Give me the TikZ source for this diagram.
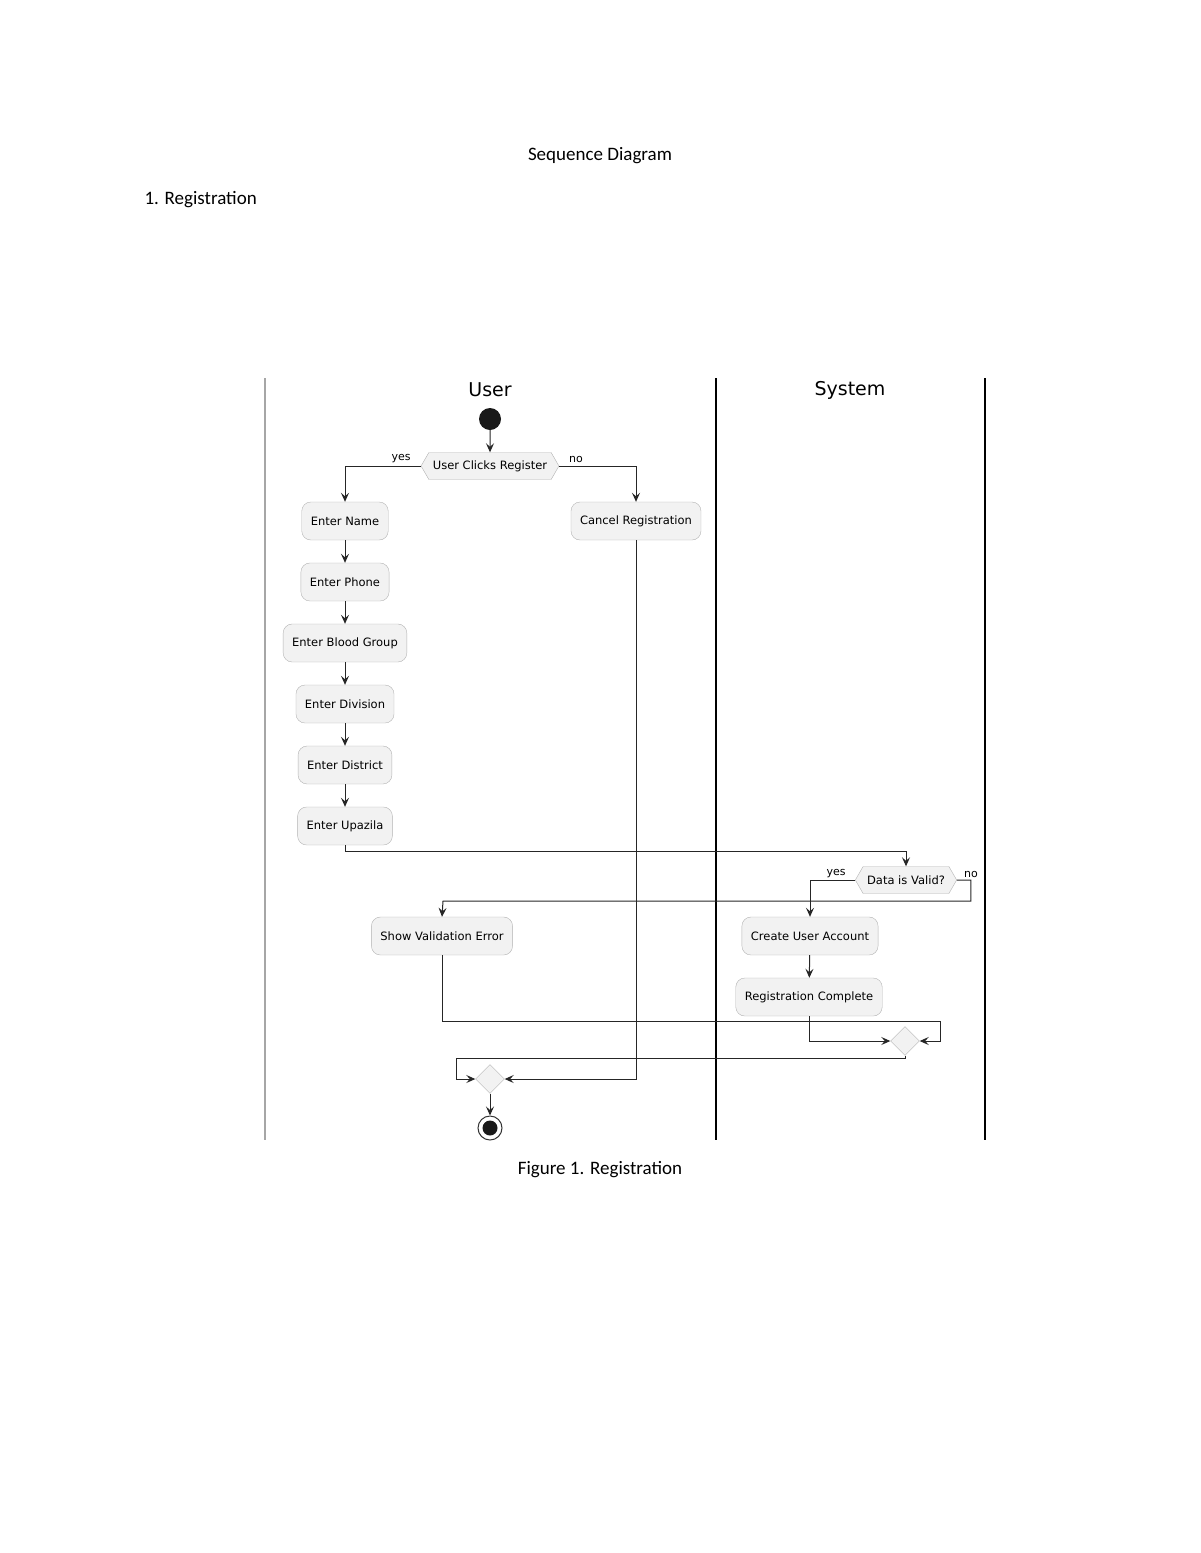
\documentclass[tikz,border=0pt]{standalone}
\usepackage{fontspec}
\setmainfont{Carlito}
\newfontfamily\dia{DejaVu Sans}
\usetikzlibrary{arrows.meta,shapes.symbols,shapes.geometric}
\begin{document}
\begin{tikzpicture}[x=1pt,y=-1pt,
  act/.style={draw=gray!60,fill=gray!10,rounded corners=9pt,minimum height=38pt,inner xsep=9pt,font=\dia\fontsize{11.5}{13}\selectfont},
  dec/.style={shape=signal,signal to=east and west,signal from=nowhere,signal pointer angle=120,draw=gray!60,fill=gray!10,minimum height=27pt,inner xsep=4pt,font=\dia\fontsize{11.5}{13}\selectfont},
  mrg/.style={diamond,draw=gray!60,fill=gray!10,minimum size=29pt,inner sep=0pt},
  lab/.style={font=\dia\fontsize{11}{12}\selectfont},
  flow/.style={draw=black!85,line width=1pt,-{Stealth[length=9pt,width=8pt,inset=3.5pt]}},
  ln/.style={draw=black!85,line width=1pt},
  lane/.style={line width=1.5pt}]
\useasboundingbox (0,0) rectangle (1200,1553);
\node[font=\fontsize{19}{22}\selectfont] (t1) at (600,156) {Sequence Diagram};
\node[font=\fontsize{19}{22}\selectfont,anchor=west] (t2) at (141,200) {1. Registration};
\node[font=\fontsize{19}{22}\selectfont] (t3) at (600,1170) {Figure 1. Registration};
% lanes
\draw[lane,gray!70] (265,378) -- (265,1140);
\draw[lane] (716,378) -- (716,1140);
\draw[lane] (985,378) -- (985,1140);
\node[font=\dia\fontsize{19}{22}\selectfont] (hu) at (490,390) {User};
\node[font=\dia\fontsize{19}{22}\selectfont] (hs) at (850,390) {System};
% nodes
\node[circle,fill=black!90,minimum size=22pt,inner sep=0pt] (start) at (490,419) {};
\node[dec] (d1) at (490,466) {User Clicks Register};
\node[lab] (y1) at (401,459) {yes};
\node[lab] (n1) at (576,459) {no};
\node[act] (a1) at (345,521) {Enter Name};
\node[act] (c1) at (636,521) {Cancel Registration};
\node[act] (a2) at (345,582) {Enter Phone};
\node[act] (a3) at (345,643) {Enter Blood Group};
\node[act] (a4) at (345,704) {Enter Division};
\node[act] (a5) at (345,765) {Enter District};
\node[act] (a6) at (345,826) {Enter Upazila};
\node[dec] (d2) at (906,880) {Data is Valid?};
\node[lab] (y2) at (836,874) {yes};
\node[lab] (n2) at (971,874) {no};
\node[act] (s1) at (810,936) {Create User Account};
\node[act] (s2) at (809,997) {Registration Complete};
\node[act] (e1) at (442,936) {Show Validation Error};
\node[mrg] (m1) at (905,1041) {};
\node[mrg] (m2) at (490,1079) {};
\node[circle,draw=black!80,fill=white,line width=1pt,minimum size=24pt,inner sep=0pt] (end) at (490,1128) {};
\node[circle,fill=black!90,minimum size=15pt,inner sep=0pt] (endin) at (490,1128) {};
% edges
\draw[flow] (start) -- (d1);
\draw[flow] (d1.west) -| (a1.north);
\draw[flow] (d1.east) -| (c1.north);
\draw[flow] (a1) -- (a2);
\draw[flow] (a2) -- (a3);
\draw[flow] (a3) -- (a4);
\draw[flow] (a4) -- (a5);
\draw[flow] (a5) -- (a6);
\draw[flow] (a6.south) -- ++(0,6) -| (d2.north);
\draw[flow] (d2.west) -| (s1.north);
\draw[flow] (d2.east) -- ++(14,0) |- (443,901) -- (e1.north);
\draw[flow] (s1) -- (s2);
\draw[flow] (s2.south) |- (m1.west);
\draw[flow] (e1.south) |- (940,1021) |- (m1.east);
\draw[flow] (m1.south) -- ++(0,3) -| (456,1079) -- (m2.west);
\draw[flow] (c1.south) |- (m2.east);
\draw[flow] (m2.south) -- (end.north);
\end{tikzpicture}
\end{document}
